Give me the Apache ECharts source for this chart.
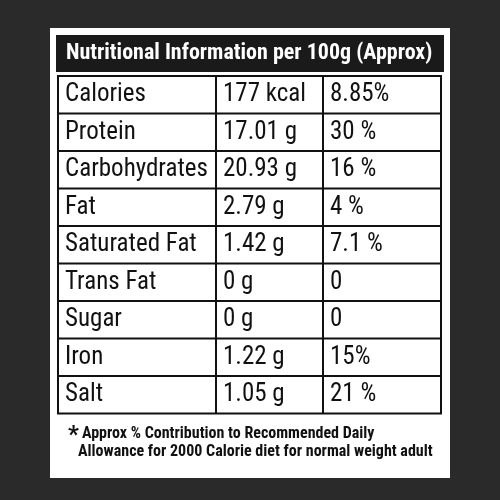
<!DOCTYPE html>
<html><head><meta charset="utf-8">
<script src="https://cdn.jsdelivr.net/npm/echarts@6/dist/echarts.min.js"></script>
<style>html,body{margin:0;padding:0;background:#2a2a2a}#c{width:500px;height:500px}</style>
</head><body><div id="c"></div>
<script>
var title = 'Nutritional Information per 100g (Approx)';
var nutrients = ['Calories', 'Protein', 'Carbohydrates', 'Fat', 'Saturated Fat', 'Trans Fat', 'Sugar', 'Iron', 'Salt'];
var amounts = ['177 kcal', '17.01 g', '20.93 g', '2.79 g', '1.42 g', '0 g', '0 g', '1.22 g', '1.05 g'];
var percents = ['8.85%', '30 %', '16 %', '4 %', '7.1 %', '0', '0', '15%', '21 %'];
var footnote = ['Approx % Contribution to Recommended Daily', 'Allowance for 2000 Calorie diet for normal weight adult'];

var chart = echarts.init(document.getElementById('c'));
var font = '"Liberation Sans Narrow", "Roboto Condensed", "DejaVu Sans Condensed", sans-serif';
var colX = [58, 216, 323, 441];
var rowTop = 76, rowH = 37.5;
var els = [];
// panel
els.push({type: 'rect', shape: {x: 50, y: 28, width: 400, height: 450}, style: {fill: '#fff'}});
els.push({type: 'rect', shape: {x: 56, y: 35, width: 388, height: 37}, style: {fill: '#1a1a1a'}});
els.push({type: 'text', x: 66, y: 53, style: {text: title, fill: '#fff', font: 'bold 22px ' + font, verticalAlign: 'middle'}});
var bottom = rowTop + rowH * nutrients.length;
els.push({type: 'rect', shape: {x: colX[0], y: rowTop, width: colX[3] - colX[0], height: bottom - rowTop}, style: {fill: 'none', stroke: '#111', lineWidth: 2}});
for (var i = 1; i < 3; i++) {
  els.push({type: 'line', shape: {x1: colX[i], y1: rowTop, x2: colX[i], y2: bottom}, style: {stroke: '#111', lineWidth: 2}});
}
nutrients.forEach(function (n, k) {
  var y = rowTop + rowH * k;
  if (k > 0) els.push({type: 'line', shape: {x1: colX[0], y1: y, x2: colX[3], y2: y}, style: {stroke: '#111', lineWidth: 2}});
  var cy = y + rowH / 2;
  [n, amounts[k], percents[k]].forEach(function (t, j) {
    els.push({type: 'text', x: colX[j] + 7, y: cy, style: {text: t, fill: '#111', font: '25px ' + font, verticalAlign: 'middle'}});
  });
});
els.push({type: 'text', x: 68, y: 436, style: {text: '*', fill: '#111', font: 'bold 24px ' + font, verticalAlign: 'middle'}});
els.push({type: 'text', x: 82, y: 434, style: {text: footnote[0], fill: '#111', font: 'bold 16px ' + font, verticalAlign: 'middle'}});
els.push({type: 'text', x: 78, y: 452, style: {text: footnote[1], fill: '#111', font: 'bold 16px ' + font, verticalAlign: 'middle'}});

chart.setOption({backgroundColor: '#2a2a2a', animation: false, graphic: {elements: els}});
</script></body></html>
